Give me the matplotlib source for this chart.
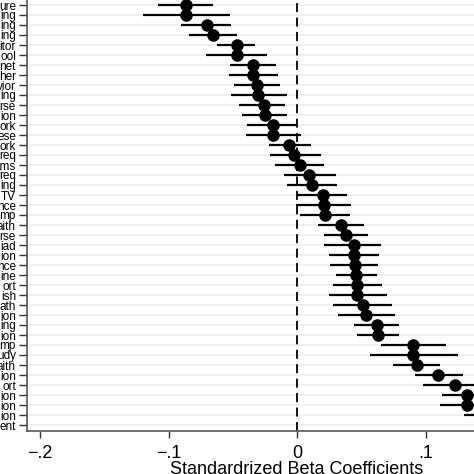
import matplotlib.pyplot as plt
import numpy as np

plt.rcParams['font.family'] = ['Liberation Sans', 'DejaVu Sans']

# labels are cut off at the left edge in the source, keep the visible parts
labels = ["ure", "ing", "ing", "ing", "itor", "ool", "net", "her", "vior", "ing",
          "rse", "ion", "ork", "ese", "ork", "req", "ams", "req", "ing", "TV",
          "nce", "mp", "aith", "rse", "iad", "ion", "nce", "ine", "ort", "ish",
          "ath", "ion", "ing", "ion", "mp", "udy", "aith", "ion", "ort", "ion",
          "ion", "ion", "ent"]

beta = [-0.086, -0.086, -0.070, -0.065, -0.047, -0.047, -0.034, -0.034, -0.031, -0.030,
        -0.026, -0.025, -0.019, -0.019, -0.006, -0.002, 0.002, 0.009, 0.012, 0.020,
        0.021, 0.022, 0.034, 0.038, 0.044, 0.044, 0.045, 0.046, 0.047, 0.047,
        0.051, 0.054, 0.062, 0.063, 0.090, 0.090, 0.093, 0.110, 0.123, 0.132,
        0.132, 0.150, 0.180]

ci_low = [-0.108, -0.120, -0.090, -0.084, -0.062, -0.071, -0.052, -0.053, -0.049, -0.051,
          -0.045, -0.043, -0.039, -0.040, -0.022, -0.021, -0.017, -0.010, -0.008, 0.000,
          -0.001, 0.002, 0.016, 0.021, 0.021, 0.025, 0.026, 0.030, 0.028, 0.025,
          0.028, 0.032, 0.044, 0.047, 0.065, 0.057, 0.075, 0.092, 0.098, 0.113,
          0.111, 0.130, 0.160]

ci_high = [-0.065, -0.052, -0.051, -0.047, -0.033, -0.023, -0.016, -0.015, -0.013, -0.008,
           -0.009, -0.008, -0.001, 0.003, 0.011, 0.019, 0.021, 0.030, 0.031, 0.039,
           0.042, 0.041, 0.052, 0.055, 0.065, 0.064, 0.063, 0.062, 0.066, 0.070,
           0.074, 0.076, 0.079, 0.079, 0.116, 0.125, 0.111, 0.129, 0.148, 0.152,
           0.155, 0.170, 0.200]

ypos = np.arange(len(labels))

fig = plt.figure(figsize=(4.74, 4.74), dpi=100)
ax = fig.add_axes([27 / 474, 1 - 431 / 474, 1 - 27 / 474, 431 / 474])

# light horizontal grid, one line per row
for y in ypos:
    ax.axhline(y, color="#e8eef0", linewidth=1.2, zorder=0)

ax.axvline(0, color="black", linewidth=1.3, linestyle=(0, (5, 3)), zorder=1)
ax.hlines(ypos, ci_low, ci_high, color="black", linewidth=1.6, zorder=2)
ax.plot(beta, ypos, "o", color="black", markersize=8, zorder=3)

ax.set_xlim(-0.2101, 0.1377)
ax.set_ylim(42.6, -0.5)
ax.set_yticks(ypos)
ax.set_yticklabels(labels, fontsize=8.5)
ax.set_xticks([-0.2, -0.1, 0, 0.1])
ax.set_xticklabels(["\u2212.2", "\u2212.1", "0", ".1"], fontsize=13)

ax.tick_params(axis="y", length=6, width=1, color="#333333", pad=2)
ax.tick_params(axis="x", length=5, width=1, color="#333333", pad=5)

for side in ["top", "right"]:
    ax.spines[side].set_visible(False)
ax.spines["left"].set_color("#555555")
ax.spines["bottom"].set_color("#555555")
ax.spines["left"].set_linewidth(1.2)
ax.spines["bottom"].set_linewidth(1.2)

fig.text(297 / 474, 1 - 470 / 474, "Standardrized Beta Coefficients",
         ha="center", va="center", fontsize=13)

fig.savefig("out.png", dpi=100)
